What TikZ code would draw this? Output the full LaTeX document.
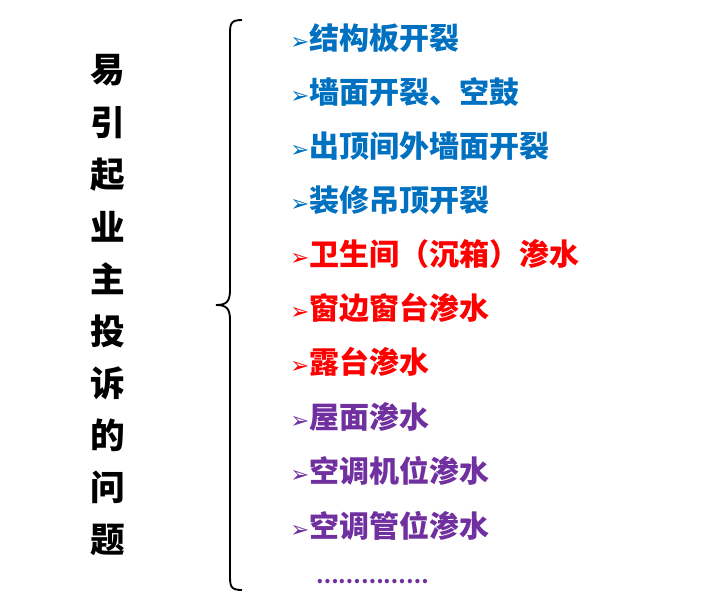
\documentclass[tikz,border=0pt]{standalone}
\usepackage{fontspec}
\newfontfamily\cjk{Noto Sans CJK SC}
\newfontfamily\sym{DejaVu Sans}
\definecolor{itemblue}{RGB}{0,112,192}
\definecolor{itemred}{RGB}{255,0,0}
\definecolor{itempurple}{RGB}{112,48,160}
\tikzset{
  item/.style={anchor=west, inner sep=0pt, font=\cjk\bfseries\fontsize{22.5}{24}\selectfont},
  side/.style={inner sep=0pt, font=\cjk\bfseries\fontsize{26}{28}\selectfont}
}
\newcommand{\tip}{{\sym\fontsize{17}{17}\selectfont ➢}}
\begin{document}
\begin{tikzpicture}[x=0.75pt,y=-0.75pt]
\useasboundingbox (0,0) rectangle (710,600);

% left column
\foreach \ch [count=\i] in {易,引,起,业,主,投,诉,的,问,题}
  \node[side] (s\i) at (108,{18+52.2*\i}) {\ch};

% brace
\draw[line width=1.4pt] (242,20) .. controls (230,20) and (230,24) .. (230,36)
  -- (230,290) .. controls (230,302) and (226,305) .. (216,305)
  .. controls (226,305) and (230,308) .. (230,320)
  -- (230,574) .. controls (230,586) and (230,590) .. (242,590);

% items
\foreach \t/\c/\y [count=\i] in {
  结构板开裂/itemblue/38, 墙面开裂、空鼓/itemblue/92,
  出顶间外墙面开裂/itemblue/146, 装修吊顶开裂/itemblue/200,
  卫生间（沉箱）渗水/itemred/254, 窗边窗台渗水/itemred/308,
  露台渗水/itemred/362, 屋面渗水/itempurple/417,
  空调机位渗水/itempurple/471, 空调管位渗水/itempurple/526}
  \node[item, text=\c] (i\i) at (290,\y) {\tip\t};

\node[item, text=itempurple] (dots) at (316,582) {\fontsize{15}{15}\selectfont ……………};
\end{tikzpicture}
\end{document}
